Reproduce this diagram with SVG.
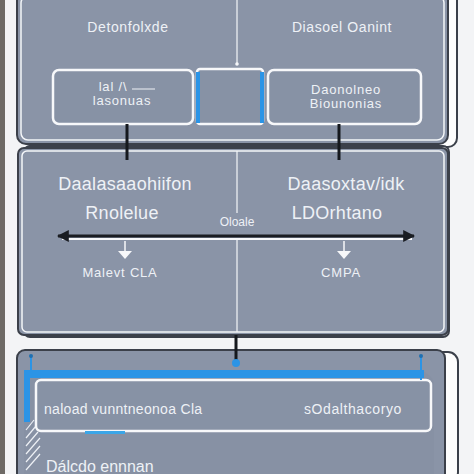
<svg xmlns="http://www.w3.org/2000/svg" width="474" height="474" viewBox="0 0 474 474">
<defs>
<style>
.bg{fill:#f3f4f6}
.card{fill:#fdfdfd;stroke:#3b404a;stroke-width:2}
.panel{fill:#8a94a7;stroke:#3b404a;stroke-width:2}
.inner{fill:none;stroke:#f4f6f9;stroke-width:1.5}
.box{fill:#8792a5;stroke:#f7f8fa;stroke-width:2.5}
.t{font-family:"Liberation Sans",Arial,sans-serif;fill:#eef1f6;text-anchor:middle}
.s13{font-size:14px;letter-spacing:0.6px}
.s12{font-size:13px;letter-spacing:0.8px}
.s16{font-size:18px;letter-spacing:0.3px}
.wire{stroke:#15181d;stroke-width:3;fill:none}
.blue{fill:#2b94e6}
.wh{fill:#f7f8fa}
.div{stroke:#f4f6f9;stroke-width:1.2}
</style>
<marker id="ah" viewBox="0 0 10 10" refX="9" refY="5" markerWidth="4" markerHeight="4" orient="auto-start-reverse"><path d="M0,0 L10,5 L0,10 z" fill="#1a1d22"/></marker>
</defs>
<rect class="bg" x="0" y="0" width="474" height="474"/>
<rect x="0" y="0" width="5" height="474" fill="#6e6a66"/>

<g id="panel-top">
<rect class="card" x="26" y="-10" width="431" height="157" rx="9"/>
<rect class="panel" x="17" y="-8" width="431" height="152" rx="9"/>
<rect class="inner" x="21" y="-4" width="423" height="144" rx="7"/>
<line class="div" x1="237" y1="0" x2="237" y2="64"/>
<circle cx="237" cy="64" r="1.8" fill="#f4f6f9"/>
<text class="t s13" x="128" y="32">Detonfolxde</text>
<text class="t s13" x="342" y="32">Diasoel Oanint</text>
</g>

<g id="box-left">
<rect class="box" x="53" y="70" width="140" height="54" rx="6"/>
<text class="t s12" x="113" y="91">lal /\</text>
<line x1="132" y1="89" x2="155" y2="89" stroke="#eef1f6" stroke-width="1"/>
<text class="t s12" x="122" y="105">lasonuas</text>
</g>

<g id="box-mid">
<rect class="box" x="197" y="69" width="66" height="55" rx="3"/>
<rect class="blue" x="196" y="72" width="4" height="51"/>
<rect class="blue" x="260" y="72" width="4" height="51"/>
</g>

<g id="box-right">
<rect class="box" x="268" y="70" width="153" height="54" rx="6"/>
<text class="t s12" x="346" y="94">Daonolneo</text>
<text class="t s12" x="346" y="108">Biounonias</text>
</g>

<g id="panel-mid">
<rect class="card" x="24" y="146" width="425" height="191" rx="6"/>
<rect class="panel" x="18" y="148" width="430" height="187" rx="6"/>
<rect class="inner" x="22" y="151" width="422" height="181" rx="5"/>
<line class="div" x1="237" y1="151" x2="237" y2="213"/>
<line class="div" x1="237" y1="240" x2="237" y2="332"/>
<text class="t s16" x="125" y="190">Daalasaaohiifon</text>
<text class="t s16" x="122" y="219">Rnolelue</text>
<text class="t s16" x="346" y="190">Daasoxtav/idk</text>
<text class="t s16" x="337" y="219">LDOrhtano</text>
<text class="t" style="font-size:12px" x="237" y="226">Oloale</text>
<text class="t s12" x="120" y="277">Malevt CLA</text>
<text class="t s12" x="341" y="277">CMPA</text>
</g>

<g id="panel-bottom">
<rect class="card" x="26" y="352" width="432" height="130" rx="10"/>
<rect class="panel" x="17" y="350" width="428" height="132" rx="8"/>
<path d="M24,376 L24,372 Q24,370 28,370 L422,370 L430,376 Q434,380 434,386 L434,476 L24,476 z" fill="#8791a4"/>
<rect class="blue" x="24" y="370" width="400" height="8"/>
<rect class="blue" x="24" y="372" width="6" height="50"/>
<g stroke="#eef1f6" stroke-width="1.2">
<line x1="26" y1="430" x2="34" y2="420"/>
<line x1="26" y1="438" x2="36" y2="426"/>
<line x1="26" y1="446" x2="38" y2="432"/>
<line x1="26" y1="454" x2="40" y2="438"/>
<line x1="26" y1="462" x2="40" y2="446"/>
<line x1="26" y1="470" x2="40" y2="454"/>
</g>
<rect class="box" x="36" y="380" width="395" height="51" rx="5"/>
<rect x="85" y="431" width="40" height="3" fill="#3ba6e8"/>
<text class="t s13" x="44" y="414" style="text-anchor:start;letter-spacing:0.3px">naload vunntneonoa Cla</text>
<text class="t s13" x="402" y="414" style="text-anchor:end">sOdalthacoryo</text>
<text class="t" style="font-size:16px;text-anchor:start" x="46" y="472">Dálcdo ennnan</text>
</g>

<g id="connectors">
<line class="wire" x1="127" y1="124" x2="127" y2="160"/>
<line class="wire" x1="339" y1="124" x2="339" y2="160"/>
<line x1="62" y1="239" x2="412" y2="239" stroke="#f7f8fa" stroke-width="2"/>
<line x1="58" y1="236" x2="414" y2="236" stroke="#1a1d22" stroke-width="3" marker-start="url(#ah)" marker-end="url(#ah)"/>
<line x1="125" y1="241" x2="125" y2="252" stroke="#f7f8fa" stroke-width="1.5"/>
<polygon class="wh" points="118,251 132,251 125,259"/>
<line x1="344" y1="241" x2="344" y2="252" stroke="#f7f8fa" stroke-width="1.5"/>
<polygon class="wh" points="337,251 351,251 344,259"/>
<line class="wire" x1="236" y1="335" x2="236" y2="362"/>
<circle cx="236" cy="363" r="4" class="blue"/>
<line x1="31" y1="356" x2="31" y2="372" stroke="#2b94e6" stroke-width="2"/>
<circle cx="31" cy="356" r="2" fill="#1f6fb0"/>
<line x1="421" y1="356" x2="421" y2="380" stroke="#2b94e6" stroke-width="2"/>
<circle cx="421" cy="356" r="2" fill="#1f6fb0"/>
</g>
</svg>
